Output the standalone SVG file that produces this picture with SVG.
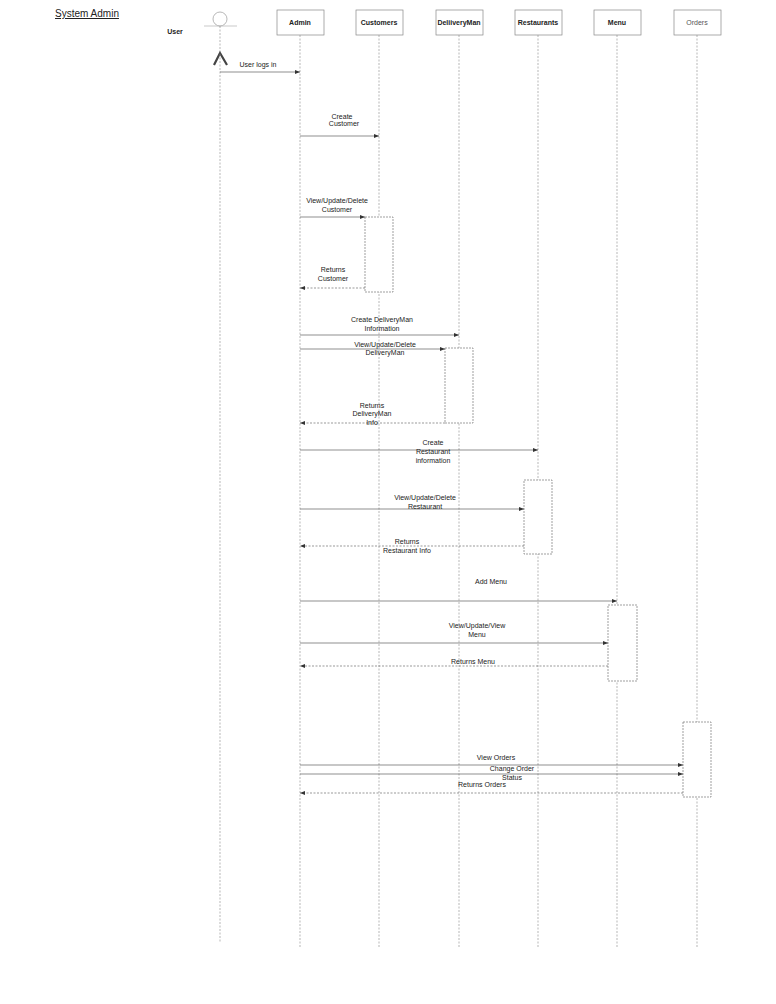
<svg xmlns="http://www.w3.org/2000/svg" width="776" height="1004" viewBox="0 0 776 1004">
<defs>
<marker id="ah" markerWidth="6" markerHeight="6" refX="5" refY="3" orient="auto" markerUnits="userSpaceOnUse"><path d="M0,1 L5,3 L0,5 z" fill="#333"/></marker>
<style>
text{font-family:"Liberation Sans",Arial,sans-serif;font-size:7px;fill:#222;text-anchor:middle}
.h{font-weight:bold}
.box{fill:#fff;stroke:#888;stroke-width:0.7}
.ll{stroke:#888;stroke-width:0.6;stroke-dasharray:2,1.5}
.act{fill:#fff;stroke:#777;stroke-width:0.7;stroke-dasharray:2,1}
.m{stroke:#444;stroke-width:0.6;fill:none;marker-end:url(#ah)}
.r{stroke:#555;stroke-width:0.6;fill:none;stroke-dasharray:2,1.5;marker-end:url(#ah)}
</style>
</defs>
<rect width="776" height="1004" fill="#fff"/>
<text x="87" y="17" style="font-size:10px;text-decoration:underline">System Admin</text>
<g id="user">
<circle cx="220" cy="19" r="7" fill="#fff" stroke="#999" stroke-width="0.7"/>
<line x1="204" y1="26" x2="237" y2="26" stroke="#bbb" stroke-width="0.8"/>
<path d="M214,65 L220,53 L227,65" fill="none" stroke="#444" stroke-width="2.2"/>
<text x="175" y="34" class="h">User</text>
<line x1="220" y1="26" x2="220" y2="942" class="ll"/>
</g>
<g id="admin"><line x1="300" y1="35" x2="300" y2="947" class="ll"/><rect x="277" y="10" width="47" height="25" class="box"/><text x="300" y="25" class="h">Admin</text></g>
<g id="customers"><line x1="379" y1="35" x2="379" y2="947" class="ll"/><rect x="356" y="10" width="47" height="25" class="box"/><text x="379" y="25" class="h">Customers</text><rect x="365" y="217" width="28" height="75" class="act"/></g>
<g id="deliveryman"><line x1="459" y1="35" x2="459" y2="947" class="ll"/><rect x="436" y="10" width="47" height="25" class="box"/><text x="459" y="25" class="h">DeliiveryMan</text><rect x="445" y="348" width="28" height="75" class="act"/></g>
<g id="restaurants"><line x1="538" y1="35" x2="538" y2="947" class="ll"/><rect x="515" y="10" width="47" height="25" class="box"/><text x="538" y="25" class="h">Restaurants</text><rect x="524" y="480" width="28" height="74" class="act"/></g>
<g id="menu"><line x1="617" y1="35" x2="617" y2="947" class="ll"/><rect x="594" y="10" width="47" height="25" class="box"/><text x="617" y="25" class="h">Menu</text><rect x="608" y="605" width="29" height="76" class="act"/></g>
<g id="orders"><line x1="697" y1="35" x2="697" y2="947" class="ll"/><rect x="674" y="10" width="47" height="25" class="box"/><text x="697" y="25" style="fill:#555">Orders</text><rect x="683" y="722" width="28" height="75" class="act"/></g>
<g id="connectors">
<line x1="220" y1="72" x2="300" y2="72" class="m"/><text x="258" y="67">User logs in</text>
<line x1="300" y1="136" x2="379" y2="136" class="m"/><text x="342" y="119">Create</text><text x="344" y="126">Customer</text>
<line x1="300" y1="217" x2="365" y2="217" class="m"/><text x="337" y="203">View/Update/Delete</text><text x="337" y="212">Customer</text>
<line x1="365" y1="288" x2="300" y2="288" class="r"/><text x="333" y="272">Returns</text><text x="333" y="281">Customer</text>
<line x1="300" y1="335" x2="459" y2="335" class="m"/><text x="382" y="322">Create DeliveryMan</text><text x="382" y="331">Information</text>
<line x1="300" y1="349" x2="445" y2="349" class="m"/><text x="385" y="347">View/Update/Delete</text><text x="385" y="355">DeliveryMan</text>
<line x1="445" y1="423" x2="300" y2="423" class="r"/><text x="372" y="408">Returns</text><text x="372" y="416">DeliveryMan</text><text x="372" y="425">Info</text>
<line x1="300" y1="450" x2="538" y2="450" class="m"/><text x="433" y="445">Create</text><text x="433" y="454">Restaurant</text><text x="433" y="463">information</text>
<line x1="300" y1="509" x2="524" y2="509" class="m"/><text x="425" y="500">View/Update/Delete</text><text x="425" y="509">Restaurant</text>
<line x1="524" y1="546" x2="300" y2="546" class="r"/><text x="407" y="544">Returns</text><text x="407" y="553">Restaurant Info</text>
<line x1="300" y1="601" x2="617" y2="601" class="m"/><text x="491" y="584">Add Menu</text>
<line x1="300" y1="643" x2="608" y2="643" class="m"/><text x="477" y="628">View/Update/View</text><text x="477" y="637">Menu</text>
<line x1="608" y1="666" x2="300" y2="666" class="r"/><text x="473" y="664">Returns Menu</text>
<line x1="300" y1="765" x2="683" y2="765" class="m"/><text x="496" y="760">View Orders</text>
<line x1="300" y1="774" x2="683" y2="774" class="m"/><text x="512" y="771">Change Order</text><text x="512" y="780">Status</text>
<line x1="683" y1="793" x2="300" y2="793" class="r"/><text x="482" y="787">Returns Orders</text>
</g>
</svg>
